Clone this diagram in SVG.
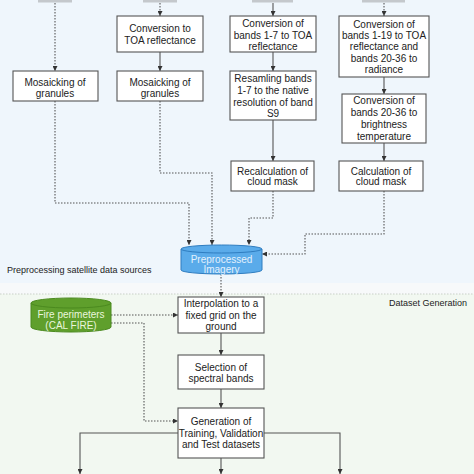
<svg xmlns="http://www.w3.org/2000/svg" width="474" height="474" viewBox="0 0 474 474">
<style>
.box{fill:#fff;stroke:#555;stroke-width:1.1}
.t{font-family:"Liberation Sans",Arial,sans-serif;font-size:10px;fill:#222;text-anchor:middle}
.lbl{font-family:"Liberation Sans",Arial,sans-serif;font-size:9px;fill:#222}
.solid{fill:none;stroke:#555;stroke-width:1.1;marker-end:url(#ah)}
.dot{fill:none;stroke:#555;stroke-width:1.1;stroke-dasharray:1.5,1.5;marker-end:url(#ah)}
.cylb{fill:#5aabea;stroke:#2f7dc0;stroke-width:1}
.cylg{fill:#5f9f2c;stroke:#4b8a1f;stroke-width:1}
.tb{font-family:"Liberation Sans",Arial,sans-serif;font-size:10px;fill:#e3f1fd;text-anchor:middle}
.tg{font-family:"Liberation Sans",Arial,sans-serif;font-size:10px;fill:#eaf6dc;text-anchor:middle}
</style>
<defs>
<marker id="ah" viewBox="0 0 6 6" refX="6" refY="3" markerWidth="5" markerHeight="5" markerUnits="userSpaceOnUse" orient="auto">
<path d="M0,0 L6,3 L0,6 Z" fill="#333"/>
</marker>
</defs>
<!-- backgrounds -->
<rect x="0" y="0" width="474" height="283" fill="#eff6fc"/>
<rect x="0" y="283" width="474" height="11" fill="#f7f9fa"/>
<rect x="0" y="294" width="474" height="180" fill="#f2f8f1"/>
<line x1="0" y1="294" x2="474" y2="294" stroke="#c8cfc8" stroke-width="1" stroke-dasharray="1.5,1.5"/>
<!-- cut-off sources at top -->
<g id="top-sources" fill="#c4c8cc">
<rect x="38" y="0" width="34" height="2.5"/>
<rect x="143" y="0" width="34" height="2.5"/>
<rect x="252" y="0" width="41" height="2.5"/>
<rect x="362" y="0" width="43" height="2.5"/>
</g>
<text class="lbl" x="7" y="273">Preprocessing satellite data sources</text>
<text class="lbl" x="467" y="306" text-anchor="end">Dataset Generation</text>
<g id="connectors">
<path class="dot" d="M55,3 V71"/>
<path class="dot" d="M160,3 V16"/>
<path class="solid" d="M273,3 V16"/>
<path class="dot" d="M384,3 V16"/>
<path class="solid" d="M160,52 V71"/>
<path class="solid" d="M273,52 V71"/>
<path class="solid" d="M273,120 V161"/>
<path class="solid" d="M384,77 V94"/>
<path class="solid" d="M384,143 V161"/>
<path class="dot" d="M55,101 V203 H189 V245"/>
<path class="dot" d="M160,101 V173 H212 V245"/>
<path class="dot" d="M273,191 V218 H249 V245"/>
<path class="dot" d="M384,191 V234 H305 V254 H262"/>
<path class="dot" d="M221,274 V297"/>
<path class="solid" d="M221,333 V355"/>
<path class="solid" d="M221,389 V408"/>
<path class="dot" d="M111,315 H178"/>
<path class="dot" d="M111,323 H144 V421 H178"/>
<path class="solid" d="M178,433 H80 V474"/>
<path class="solid" d="M221,458 V474"/>
<path class="solid" d="M264,433 H340 V474"/>
</g>
<g id="n-mosaic1">
<rect class="box" x="13" y="71" width="85" height="30"/>
<text class="t" x="55" y="85.5">Mosaicking  of</text>
<text class="t" x="55" y="96.5">granules</text>
</g>
<g id="n-conv-toa">
<rect class="box" x="117" y="16" width="86" height="36"/>
<text class="t" x="160" y="32">Conversion  to</text>
<text class="t" x="160" y="43.5">TOA reflectance</text>
</g>
<g id="n-mosaic2">
<rect class="box" x="117" y="71" width="86" height="30"/>
<text class="t" x="160" y="85.5">Mosaicking  of</text>
<text class="t" x="160" y="96.5">granules</text>
</g>
<g id="n-conv-17">
<rect class="box" x="230" y="16" width="86" height="36"/>
<text class="t" x="273" y="27">Conversion of</text>
<text class="t" x="273" y="38.5">bands 1-7 to TOA</text>
<text class="t" x="273" y="50">reflectance</text>
</g>
<g id="n-resample">
<rect class="box" x="230" y="71" width="86" height="49"/>
<text class="t" x="273" y="81.5">Resamling bands</text>
<text class="t" x="273" y="93.5">1-7 to the native</text>
<text class="t" x="273" y="105.5">resolution of band</text>
<text class="t" x="273" y="117">S9</text>
</g>
<g id="n-recalc">
<rect class="box" x="231" y="161" width="83" height="30"/>
<text class="t" x="272.5" y="175">Recalculation of</text>
<text class="t" x="272.5" y="185">cloud mask</text>
</g>
<g id="n-conv-119">
<rect class="box" x="339" y="16" width="90" height="61"/>
<text class="t" x="384" y="27.5">Conversion of</text>
<text class="t" x="384" y="38.5">bands 1-19 to TOA</text>
<text class="t" x="384" y="50">reflectance and</text>
<text class="t" x="384" y="61.5">bands 20-36 to</text>
<text class="t" x="384" y="72.5">radiance</text>
</g>
<g id="n-bright">
<rect class="box" x="342" y="94" width="84" height="49"/>
<text class="t" x="384" y="104">Conversion of</text>
<text class="t" x="384" y="116">bands 20-36 to</text>
<text class="t" x="384" y="128">brightness</text>
<text class="t" x="384" y="139.5">temperature</text>
</g>
<g id="n-calc">
<rect class="box" x="339" y="161" width="84" height="30"/>
<text class="t" x="381" y="175">Calculation of</text>
<text class="t" x="381" y="185">cloud mask</text>
</g>
<g id="n-preproc">
<path class="cylb" d="M181,249 A40.5,4 0 0 1 262,249 V270 A40.5,4 0 0 1 181,270 Z"/>
<path class="cylb" d="M181,249 A40.5,4 0 0 0 262,249"/>
<text class="tb" x="221.5" y="262.5">Preprocessed</text>
<text class="tb" x="221.5" y="273">Imagery</text>
</g>
<g id="n-fire">
<path class="cylg" d="M31,303 A40,5 0 0 1 111,303 V327 A40,5 0 0 1 31,327 Z"/>
<path class="cylg" d="M31,303 A40,5 0 0 0 111,303"/>
<text class="tg" x="71" y="317.5">Fire perimeters</text>
<text class="tg" x="71" y="328.5">(CAL FIRE)</text>
</g>
<g id="n-interp">
<rect class="box" x="178" y="297" width="86" height="36"/>
<text class="t" x="221" y="307">Interpolation to a</text>
<text class="t" x="221" y="318.5">fixed grid on the</text>
<text class="t" x="221" y="330">ground</text>
</g>
<g id="n-select">
<rect class="box" x="178" y="355" width="86" height="34"/>
<text class="t" x="221" y="370.5">Selection of</text>
<text class="t" x="221" y="381.5">spectral bands</text>
</g>
<g id="n-gen">
<rect class="box" x="178" y="408" width="86" height="50"/>
<text class="t" x="221" y="425">Generation of</text>
<text class="t" x="221" y="436.5">Training, Validation</text>
<text class="t" x="221" y="448">and Test datasets</text>
</g>
</svg>
